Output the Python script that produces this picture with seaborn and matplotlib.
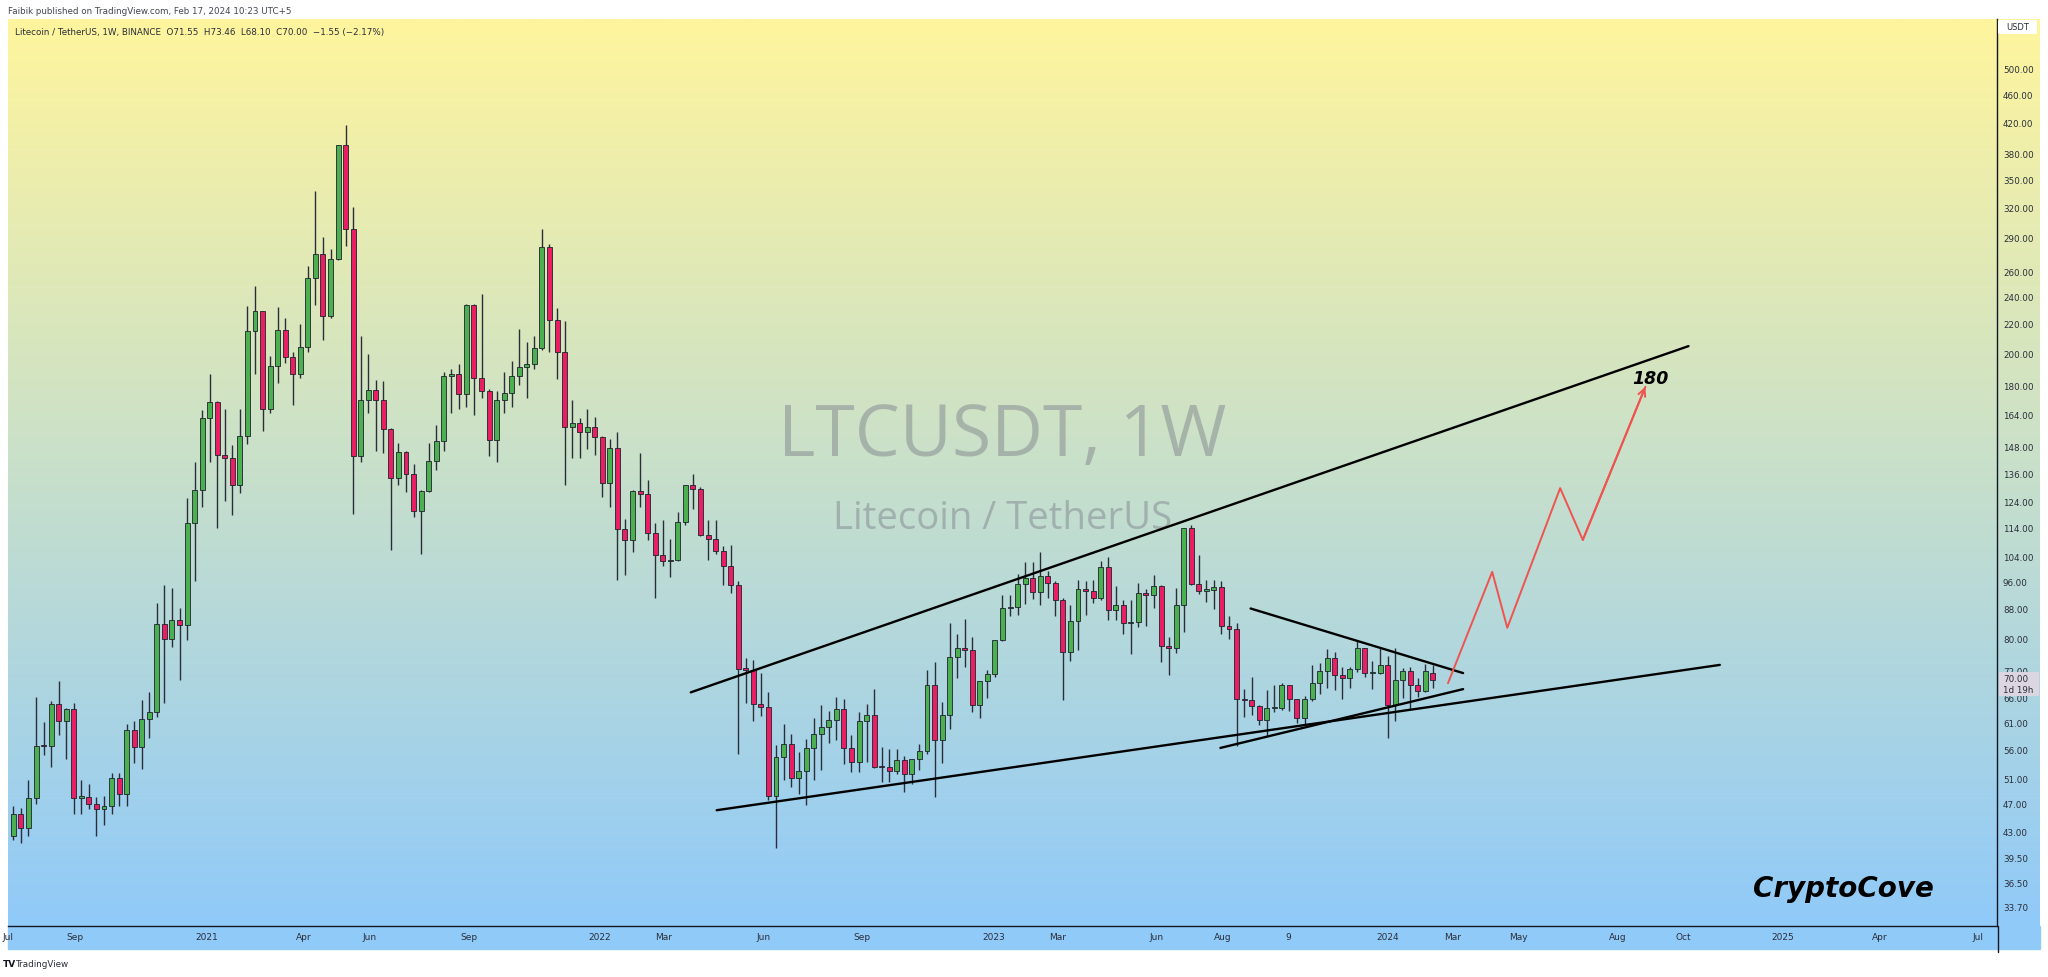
import numpy as np
import pandas as pd
import matplotlib
matplotlib.use('Agg')
import matplotlib.pyplot as plt
import matplotlib.dates as mdates
import matplotlib.ticker as mticker
from matplotlib.patches import Rectangle, FancyBboxPatch
from matplotlib.lines import Line2D
import seaborn as sns

# weekly LTC/USDT candles, first week starting 2020-07-06
first_week = '2020-07-06'
opens = [42.3, 45.4, 43.4, 47.9, 56.6, 56.5, 64.7, 61.3, 63.6, 47.9,
         48.0, 47.0, 46.2, 46.6, 51.1, 48.5, 59.6, 56.4, 61.7, 63.0,
         83.7, 79.8, 84.7, 83.4, 115.7, 128.7, 162.6, 171.2, 144.3, 142.7,
         131.0, 153.0, 215.0, 228.8, 167.0, 192.2, 215.7, 197.7, 187.0, 204.0,
         254.3, 275.0, 225.7, 270.4, 390.3, 297.8, 143.8, 171.9, 177.8, 171.9,
         156.5, 133.9, 145.6, 135.6, 120.3, 128.6, 141.3, 150.8, 185.6, 187.0,
         175.5, 233.7, 184.7, 177.0, 151.5, 172.0, 176.0, 185.6, 191.6, 193.0,
         203.5, 281.6, 222.8, 200.7, 157.9, 160.0, 155.0, 157.5, 152.8, 131.8,
         147.4, 113.6, 109.7, 128.6, 127.0, 112.0, 104.4, 102.5, 103.0, 116.3,
         130.8, 129.4, 111.4, 110.0, 106.0, 100.8, 95.0, 72.5, 72.3, 64.7,
         64.1, 48.2, 54.6, 56.9, 51.1, 52.2, 56.1, 58.7, 60.1, 61.4,
         63.6, 56.1, 53.8, 61.3, 62.4, 52.9, 52.8, 52.1, 54.1, 51.6,
         54.3, 55.6, 68.7, 57.6, 62.5, 75.3, 77.4, 77.0, 64.6, 69.6,
         71.3, 79.4, 88.1, 88.3, 95.1, 97.1, 92.9, 97.7, 95.6, 90.3,
         76.5, 84.4, 93.6, 93.1, 91.1, 100.4, 87.5, 88.9, 84.0, 84.2,
         92.4, 91.8, 94.6, 78.0, 77.4, 88.9, 113.9, 95.3, 93.2, 93.3,
         94.2, 83.1, 82.4, 65.7, 65.6, 64.3, 61.4, 63.9, 64.0, 68.7,
         65.7, 61.9, 65.7, 69.2, 71.9, 75.1, 71.1, 70.4, 72.4, 77.4,
         71.5, 71.6, 73.3, 64.6, 70.0, 72.0, 68.7, 67.4, 71.55]
highs = [46.6, 46.3, 50.7, 66.1, 61.0, 65.4, 69.7, 63.8, 65.0, 50.7,
         50.0, 48.0, 48.2, 51.8, 51.8, 60.7, 61.3, 65.5, 67.3, 89.5,
         95.0, 94.0, 88.0, 125.6, 141.0, 166.4, 187.0, 171.5, 167.0, 149.0,
         167.0, 232.7, 248.0, 229.0, 198.3, 232.0, 224.0, 200.7, 219.8, 265.0,
         337.0, 291.0, 280.0, 391.0, 416.0, 320.0, 211.7, 199.5, 183.6, 183.0,
         157.0, 150.0, 146.0, 140.0, 129.0, 150.0, 159.0, 188.0, 190.0, 193.0,
         234.0, 234.0, 241.7, 178.0, 177.0, 188.0, 195.0, 216.0, 207.0, 211.7,
         298.0, 284.0, 231.0, 221.9, 172.0, 162.6, 167.0, 162.8, 153.0, 152.0,
         155.0, 117.5, 129.0, 145.0, 133.0, 116.0, 117.0, 110.0, 120.0, 131.0,
         135.5, 130.0, 117.0, 117.0, 107.5, 108.0, 96.0, 75.0, 74.5, 71.6,
         67.3, 56.7, 60.7, 58.8, 55.4, 57.8, 61.9, 64.6, 63.3, 66.2,
         65.7, 58.5, 63.1, 64.7, 67.9, 56.4, 56.0, 56.0, 54.8, 54.3,
         57.0, 72.3, 74.1, 65.1, 84.1, 81.0, 85.0, 80.2, 69.8, 72.3,
         79.5, 91.8, 91.8, 98.2, 102.3, 102.3, 105.6, 99.2, 96.0, 91.0,
         88.9, 96.3, 96.1, 96.3, 102.5, 104.0, 94.7, 90.3, 90.3, 95.5,
         93.6, 97.9, 94.8, 80.3, 94.0, 114.0, 115.1, 104.5, 96.4, 96.4,
         96.0, 85.9, 83.9, 67.9, 70.7, 64.5, 67.7, 68.9, 69.3, 68.8,
         65.8, 66.5, 73.3, 73.9, 77.3, 76.5, 72.8, 73.0, 79.6, 77.6,
         74.3, 77.8, 75.5, 77.5, 72.6, 72.8, 70.4, 73.5, 73.46]
lows = [41.8, 41.4, 42.3, 47.0, 55.0, 52.9, 58.6, 54.2, 45.4, 45.4,
        46.2, 42.3, 43.8, 45.5, 46.6, 46.6, 53.5, 52.5, 58.0, 62.0,
        65.0, 77.7, 70.0, 79.5, 96.0, 122.0, 141.0, 114.0, 124.5, 119.0,
        127.7, 149.5, 187.0, 155.5, 165.0, 182.0, 193.8, 169.4, 184.8, 201.0,
        233.6, 208.8, 224.0, 270.0, 282.0, 119.4, 141.0, 165.0, 146.0, 145.0,
        106.3, 131.0, 128.0, 118.0, 105.0, 128.0, 137.5, 146.0, 165.0, 167.0,
        168.0, 164.0, 173.0, 143.5, 141.0, 165.0, 168.0, 180.5, 173.0, 190.0,
        202.0, 201.0, 184.0, 130.8, 143.0, 142.7, 147.0, 144.0, 126.0, 122.0,
        96.4, 98.0, 105.5, 122.0, 109.7, 90.9, 101.0, 97.5, 102.5, 115.0,
        121.0, 111.0, 103.0, 105.0, 95.0, 92.5, 55.2, 65.0, 61.3, 62.3,
        47.5, 40.7, 50.7, 49.5, 48.4, 46.8, 50.7, 52.4, 57.1, 57.6,
        53.3, 52.0, 52.0, 53.8, 52.7, 50.3, 50.3, 51.7, 48.7, 50.1,
        52.4, 55.2, 48.0, 53.6, 59.8, 70.4, 73.0, 63.0, 61.8, 65.9,
        70.5, 79.2, 85.9, 86.3, 89.2, 90.6, 88.9, 91.0, 85.9, 65.5,
        74.4, 77.1, 86.3, 89.6, 90.4, 84.9, 84.9, 81.2, 76.0, 82.8,
        83.3, 88.2, 74.0, 71.0, 76.2, 81.7, 94.8, 92.1, 89.9, 87.9,
        81.1, 79.9, 56.6, 62.0, 62.5, 60.5, 58.4, 63.0, 63.4, 63.3,
        60.8, 60.5, 65.3, 66.8, 68.1, 67.8, 65.7, 68.2, 71.7, 70.6,
        68.0, 71.3, 58.1, 61.3, 66.0, 63.6, 66.1, 67.3, 68.10]
closes = [45.4, 43.4, 47.9, 56.6, 56.5, 64.7, 61.3, 63.6, 47.9, 48.0,
          47.0, 46.2, 46.6, 51.1, 48.5, 59.6, 56.4, 61.7, 63.0, 83.7,
          79.8, 84.7, 83.4, 115.7, 128.7, 162.6, 171.2, 144.3, 142.7, 131.0,
          153.0, 215.0, 228.8, 167.0, 192.2, 215.7, 197.7, 187.0, 204.0, 254.3,
          275.0, 225.7, 270.4, 390.3, 297.8, 143.8, 171.9, 177.8, 171.9, 156.5,
          133.9, 145.6, 135.6, 120.3, 128.6, 141.3, 150.8, 185.6, 187.0, 175.5,
          233.7, 184.7, 177.0, 151.5, 172.0, 176.0, 185.6, 191.6, 193.0, 203.5,
          281.6, 222.8, 200.7, 157.9, 160.0, 155.0, 157.5, 152.8, 131.8, 147.4,
          113.6, 109.7, 128.6, 127.0, 112.0, 104.4, 102.5, 103.0, 116.3, 130.8,
          129.4, 111.4, 110.0, 106.0, 100.8, 95.0, 72.5, 72.3, 64.7, 64.1,
          48.2, 54.6, 56.9, 51.1, 52.2, 56.1, 58.7, 60.1, 61.4, 63.6,
          56.1, 53.8, 61.3, 62.4, 52.9, 52.8, 52.1, 54.1, 51.6, 54.3,
          55.6, 68.7, 57.6, 62.5, 75.3, 77.4, 77.0, 64.6, 69.6, 71.3,
          79.4, 88.1, 88.3, 95.1, 97.1, 92.9, 97.7, 95.6, 90.3, 76.5,
          84.4, 93.6, 93.1, 91.1, 100.4, 87.5, 88.9, 84.0, 84.2, 92.4,
          91.8, 94.6, 78.0, 77.4, 88.9, 113.9, 95.3, 93.2, 93.3, 94.2,
          83.1, 82.4, 65.7, 65.6, 64.3, 61.4, 63.9, 64.0, 68.7, 65.7,
          61.9, 65.7, 69.2, 71.9, 75.1, 71.1, 70.4, 72.4, 77.4, 71.5,
          71.6, 73.3, 64.6, 70.0, 72.0, 68.7, 67.4, 71.9, 70.00]

price_ticks = [500, 460, 420, 380, 350, 320, 290, 260, 240, 220, 200, 180, 164, 148,
               136, 124, 114, 104, 96, 88, 80, 72, 66, 61, 56, 51, 47, 43, 39.5, 36.5, 33.7]
time_tick_dates = ['2020-07-01', '2020-09-01', '2021-01-01', '2021-04-01', '2021-06-01',
                   '2021-09-01', '2022-01-01', '2022-03-01', '2022-06-01', '2022-09-01',
                   '2023-01-01', '2023-03-01', '2023-06-01', '2023-08-01', '2023-10-01',
                   '2024-01-01', '2024-03-01', '2024-05-01', '2024-08-01', '2024-10-01',
                   '2025-01-01', '2025-04-01', '2025-07-01']
time_tick_labels = ['Jul', 'Sep', '2021', 'Apr', 'Jun', 'Sep', '2022', 'Mar', 'Jun', 'Sep',
                    '2023', 'Mar', 'Jun', 'Aug', '9', '2024', 'Mar', 'May', 'Aug', 'Oct',
                    '2025', 'Apr', 'Jul']

# drawn trend lines (date, price)
upper_channel_dates = ['2022-03-26', '2024-10-06']
upper_channel_prices = [67.2, 204.6]
lower_channel_dates = ['2022-04-19', '2024-11-04']
lower_channel_prices = [46.0, 73.4]
triangle_top_dates = ['2023-08-27', '2024-03-11']
triangle_top_prices = [88.0, 71.5]
triangle_bottom_dates = ['2023-07-30', '2024-03-11']
triangle_bottom_prices = [56.2, 67.9]
path_dates = ['2024-02-26', '2024-04-07', '2024-04-21', '2024-06-09', '2024-06-30', '2024-08-27']
path_prices = [69.2, 99.0, 82.7, 129.6, 109.7, 179.5]
target_label = '180'
target_date = '2024-09-01'
target_price = 184.6

GREEN = '#4caf50'
RED = '#e91e63'
WICK = '#2a2e39'
PATH_RED = '#ef5350'

W, H = 2048, 978


def fx(px):
    return px / W


def fy(py):
    return 1 - py / H


def dnum(dates):
    return mdates.date2num(pd.to_datetime(dates))


sns.set_style('white')
plt.rcParams['font.family'] = ['DejaVu Sans']

fig = plt.figure(figsize=(W / 100, H / 100), dpi=100, facecolor='white')

# gradient background (pane + price scale)
bg = fig.add_axes([fx(8), fy(927), fx(2040 - 8), (927 - 20) / H])
bg.set_zorder(0)
top_c = np.array([255, 245, 157]) / 255
bot_c = np.array([144, 202, 249]) / 255
t = np.linspace(0, 1, 512)[:, None, None]
grad = top_c * (1 - t) + bot_c * t
bg.imshow(grad, aspect='auto', extent=[0, 1, 0, 1], origin='upper')
bg.axis('off')

# time scale band
fig.patches.append(Rectangle((fx(8), fy(950)), fx(2040 - 8), (950 - 927) / H,
                             transform=fig.transFigure, color='#90caf9', zorder=0))

ax = fig.add_axes([fx(8), fy(927), fx(1997 - 8), (927 - 20) / H])
ax.set_zorder(3)
ax.set_facecolor('none')

df = pd.DataFrame({'open': opens, 'high': highs, 'low': lows, 'close': closes})
df['date'] = pd.date_range(first_week, periods=len(df), freq='7D')
x = mdates.date2num(df['date'])
up = (df['close'] >= df['open']).values
body_lo = np.minimum(df['open'], df['close']).values
body_hi = np.maximum(df['open'], df['close']).values
body_h = np.maximum(body_hi - body_lo, body_lo * 0.004)

ax.set_yscale('log')
ax.vlines(x, df['low'], df['high'], color=WICK, lw=1.0, zorder=2)
ax.bar(x, body_h, bottom=body_lo, width=4.6, color=np.where(up, GREEN, RED),
       edgecolor='#1e222d', linewidth=0.6, zorder=3)

for d, p in [(upper_channel_dates, upper_channel_prices),
             (lower_channel_dates, lower_channel_prices),
             (triangle_top_dates, triangle_top_prices),
             (triangle_bottom_dates, triangle_bottom_prices)]:
    sns.lineplot(x=dnum(d), y=p, ax=ax, color='black', lw=1.7, estimator=None, sort=False, zorder=4)

px = dnum(path_dates)
sns.lineplot(x=px, y=path_prices, ax=ax, color=PATH_RED, lw=1.4, estimator=None, sort=False, zorder=4)
ax.annotate('', xy=(px[-1], path_prices[-1]), xytext=(px[-2], path_prices[-2]),
            arrowprops=dict(arrowstyle='->', color=PATH_RED, lw=1.4, shrinkA=0, shrinkB=0,
                            mutation_scale=13), zorder=4)
ax.text(dnum([target_date])[0], target_price, target_label, fontsize=12.5, fontweight='bold',
        fontstyle='italic', ha='center', va='center', color='black', zorder=5)

# watermark
ax.text(0.5, 0.540, 'LTCUSDT, 1W', transform=ax.transAxes, ha='center', va='center',
        fontsize=51.5, color='#787b86', alpha=0.45, family='Open Sans', zorder=1)
ax.text(0.5, 0.4497, 'Litecoin / TetherUS', transform=ax.transAxes, ha='center', va='center',
        fontsize=27.5, color='#787b86', alpha=0.45, family='Open Sans', zorder=1)
ax.text(0.9226, 0.042, 'CryptoCove', transform=ax.transAxes, ha='center', va='center',
        fontsize=20, fontweight='bold', fontstyle='italic', color='black', zorder=5)

# axes
ax.set_xlim(dnum(['2020-07-01'])[0] + 0.6, dnum(['2025-07-19'])[0])
ax.set_ylim(31.7, 585.8)
ax.yaxis.tick_right()
ax.yaxis.set_major_locator(mticker.FixedLocator(price_ticks))
ax.yaxis.set_major_formatter(mticker.FuncFormatter(lambda v, _: f'{v:.2f}'))
ax.yaxis.set_minor_locator(mticker.NullLocator())
ax.set_xticks(dnum(time_tick_dates))
ax.set_xticklabels(time_tick_labels)
ax.tick_params(axis='y', length=0, pad=4.3, labelsize=6.3, labelcolor='#2a2e39')
ax.tick_params(axis='x', length=0, pad=4.0, labelsize=6.5, labelcolor='#2a2e39')
ax.set_xlabel('')
ax.set_ylabel('')
for s in ['top', 'left']:
    ax.spines[s].set_visible(False)
for s in ['bottom', 'right']:
    ax.spines[s].set_color('#131722')
    ax.spines[s].set_linewidth(1.0)
fig.add_artist(Line2D([fx(1997.5)] * 2, [fy(927), fy(953)], color='#131722', lw=1.0, zorder=4))

# price scale badges
fig.patches.append(FancyBboxPatch((fx(2000), fy(34)), fx(35), 12 / H,
                                  boxstyle='round,pad=0.001', transform=fig.transFigure,
                                  facecolor='white', edgecolor='none', zorder=5))
fig.text(fx(2017.5), fy(28), 'USDT', fontsize=6, ha='center', va='center', color='#2a2e39', zorder=6)
fig.patches.append(Rectangle((fx(1999), fy(697)), fx(40), 24 / H, transform=fig.transFigure,
                             facecolor='#dcd6e0', edgecolor='none', zorder=5))
fig.text(fx(2003), fy(680), f'{closes[-1]:.2f}', fontsize=6.3, ha='left', va='center',
         color='#2a2e39', zorder=6)
fig.text(fx(2003), fy(691), '1d 19h', fontsize=6.3, ha='left', va='center', color='#2a2e39', zorder=6)

# header / footer
fig.text(fx(8), fy(12), 'Faibik published on TradingView.com, Feb 17, 2024 10:23 UTC+5',
         fontsize=6.3, ha='left', va='center', color='#434651', zorder=6)
fig.text(fx(15), fy(33),
         f'Litecoin / TetherUS, 1W, BINANCE  O{opens[-1]:.2f}  H{highs[-1]:.2f}  '
         f'L{lows[-1]:.2f}  C{closes[-1]:.2f}  \u22121.55 (\u22122.17%)',
         fontsize=6.3, ha='left', va='center', color='#2a2e39', zorder=6)
fig.text(fx(3), fy(965), 'TV', fontsize=6.5, fontweight='bold', ha='left', va='center',
         color='#131722', zorder=6)
fig.text(fx(15), fy(965), 'TradingView', fontsize=6.3, ha='left', va='center', color='#2a2e39', zorder=6)

fig.savefig('out.png', dpi=100)
